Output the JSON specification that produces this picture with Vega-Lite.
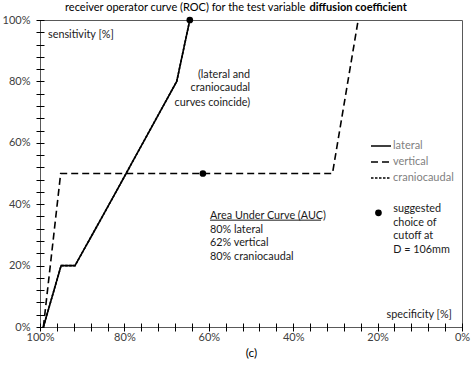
{
  "$schema": "https://vega.github.io/schema/vega-lite/v6.json",
  "width": 422,
  "height": 307,
  "autosize": {"type": "none"},
  "padding": {"left": 40, "top": 20, "right": 12, "bottom": 43},
  "background": "white",
  "config": {
    "font": "Lato",
    "view": {"stroke": "#595959", "strokeWidth": 1},
    "axis": {
      "domain": false,
      "grid": false,
      "offset": -4,
      "tickSize": 8,
      "tickCount": 30,
      "tickColor": "#000000",
      "tickWidth": 1,
      "labelFont": "Lato",
      "labelFontSize": 11,
      "labelColor": "#404040",
      "labelOverlap": false,
      "labelFlush": false
    }
  },
  "datasets": {
    "curves": [
      {"series": "craniocaudal", "spec": 99.2, "sens": 0},
      {"series": "craniocaudal", "spec": 95.0, "sens": 20},
      {"series": "craniocaudal", "spec": 91.7, "sens": 20},
      {"series": "craniocaudal", "spec": 83.6, "sens": 40},
      {"series": "craniocaudal", "spec": 75.6, "sens": 60},
      {"series": "craniocaudal", "spec": 67.6, "sens": 80},
      {"series": "craniocaudal", "spec": 64.5, "sens": 100},
      {"series": "lateral", "spec": 99.2, "sens": 0},
      {"series": "lateral", "spec": 95.0, "sens": 20},
      {"series": "lateral", "spec": 91.7, "sens": 20},
      {"series": "lateral", "spec": 83.6, "sens": 40},
      {"series": "lateral", "spec": 75.6, "sens": 60},
      {"series": "lateral", "spec": 67.6, "sens": 80},
      {"series": "lateral", "spec": 64.5, "sens": 100},
      {"series": "vertical", "spec": 99.2, "sens": 0},
      {"series": "vertical", "spec": 95.1, "sens": 50},
      {"series": "vertical", "spec": 30.7, "sens": 50},
      {"series": "vertical", "spec": 24.6, "sens": 100}
    ],
    "cutoffs": [
      {"series": "lateral", "spec": 64.5, "sens": 100},
      {"series": "vertical", "spec": 61.4, "sens": 50},
      {"marker": "legend", "spec": 19.8, "sens": 37.2}
    ],
    "leftText": [
      {"text": "sensitivity [%]", "spec": 98.1, "sens": 95.1},
      {"text": "Area Under Curve (AUC)", "spec": 59.7, "sens": 36.2},
      {"text": "80% lateral", "spec": 59.7, "sens": 31.6},
      {"text": "62% vertical", "spec": 59.7, "sens": 27.4},
      {"text": "80% craniocaudal", "spec": 59.7, "sens": 22.8},
      {"text": "suggested", "spec": 16.3, "sens": 38.3},
      {"text": "choice of", "spec": 16.3, "sens": 33.8},
      {"text": "cutoff at", "spec": 16.3, "sens": 29.6},
      {"text": "D = 106mm", "spec": 16.3, "sens": 25.1}
    ],
    "rightText": [
      {"text": "(lateral and", "spec": 50.2, "sens": 82.1},
      {"text": "craniocaudal", "spec": 50.2, "sens": 77.8},
      {"text": "curves coincide)", "spec": 50.2, "sens": 73.0},
      {"text": "specificity [%]", "spec": 2.4, "sens": 3.9}
    ],
    "underline": [
      {"spec": 59.7, "spec2": 33.4, "sens": 34.8}
    ],
    "titleNormal": [
      {"text": "receiver operator curve (ROC) for the test variable", "spec": 36.6, "sens": 103.9}
    ],
    "titleBold": [
      {"text": "diffusion coefficient", "spec": 36.6, "sens": 103.9}
    ]
  },
  "layer": [
    {
      "data": {"name": "curves"},
      "mark": {"type": "line", "color": "#000000", "strokeWidth": 1.6, "clip": false},
      "encoding": {
        "x": {
          "field": "spec", "type": "quantitative",
          "scale": {"domain": [0, 100], "reverse": true, "nice": false},
          "axis": {
            "values": [0,4,8,12,16,20,24,28,32,36,40,44,48,52,56,60,64,68,72,76,80,84,88,92,96,100],
            "labelExpr": "datum.value % 20 == 0 ? datum.value + '%' : ''",
            "labelPadding": 0,
            "title": "(c)",
            "titleFont": "Lato",
            "titleFontSize": 12,
            "titleFontWeight": "normal",
            "titleColor": "#000000",
            "titlePadding": 5
          }
        },
        "y": {
          "field": "sens", "type": "quantitative",
          "scale": {"domain": [0, 100], "nice": false},
          "axis": {
            "values": [0,4,8,12,16,20,24,28,32,36,40,44,48,52,56,60,64,68,72,76,80,84,88,92,96,100],
            "labelExpr": "datum.value % 20 == 0 ? datum.value + '%' : ''",
            "labelPadding": 6,
            "title": null
          }
        },
        "strokeDash": {
          "field": "series", "type": "nominal",
          "scale": {"domain": ["lateral", "vertical", "craniocaudal"], "range": [[1, 0], [7, 4], [2.5, 1.5]]},
          "legend": {
            "title": null,
            "orient": "none",
            "legendX": 330,
            "legendY": 115,
            "symbolType": "stroke",
            "symbolSize": 400,
            "symbolStrokeColor": "#000000",
            "symbolStrokeWidth": 1.6,
            "labelFont": "Lato",
            "labelFontSize": 11,
            "labelColor": "#7f7f7f",
            "labelOffset": 1,
            "rowPadding": -2,
            "padding": 0
          }
        }
      }
    },
    {
      "data": {"name": "cutoffs"},
      "mark": {"type": "point", "filled": true, "color": "#000000", "size": 45, "opacity": 1, "clip": false},
      "encoding": {
        "x": {"field": "spec", "type": "quantitative"},
        "y": {"field": "sens", "type": "quantitative"}
      }
    },
    {
      "data": {"name": "leftText"},
      "mark": {"type": "text", "align": "left", "baseline": "middle", "font": "Lato", "fontSize": 10.8, "color": "#1a1a1a"},
      "encoding": {
        "x": {"field": "spec", "type": "quantitative"},
        "y": {"field": "sens", "type": "quantitative"},
        "text": {"field": "text"}
      }
    },
    {
      "data": {"name": "rightText"},
      "mark": {"type": "text", "align": "right", "baseline": "middle", "font": "Lato", "fontSize": 10.8, "color": "#1a1a1a"},
      "encoding": {
        "x": {"field": "spec", "type": "quantitative"},
        "y": {"field": "sens", "type": "quantitative"},
        "text": {"field": "text"}
      }
    },
    {
      "data": {"name": "underline"},
      "mark": {"type": "rule", "color": "#1a1a1a", "strokeWidth": 1},
      "encoding": {
        "x": {"field": "spec", "type": "quantitative"},
        "x2": {"field": "spec2"},
        "y": {"field": "sens", "type": "quantitative"}
      }
    },
    {
      "data": {"name": "titleNormal"},
      "mark": {"type": "text", "align": "right", "baseline": "middle", "dx": -2, "font": "Lato", "fontSize": 11, "color": "#000000", "clip": false},
      "encoding": {
        "x": {"field": "spec", "type": "quantitative"},
        "y": {"field": "sens", "type": "quantitative"},
        "text": {"field": "text"}
      }
    },
    {
      "data": {"name": "titleBold"},
      "mark": {"type": "text", "align": "left", "baseline": "middle", "dx": 2, "font": "Lato", "fontSize": 11, "fontWeight": "bold", "color": "#000000", "clip": false},
      "encoding": {
        "x": {"field": "spec", "type": "quantitative"},
        "y": {"field": "sens", "type": "quantitative"},
        "text": {"field": "text"}
      }
    }
  ]
}
